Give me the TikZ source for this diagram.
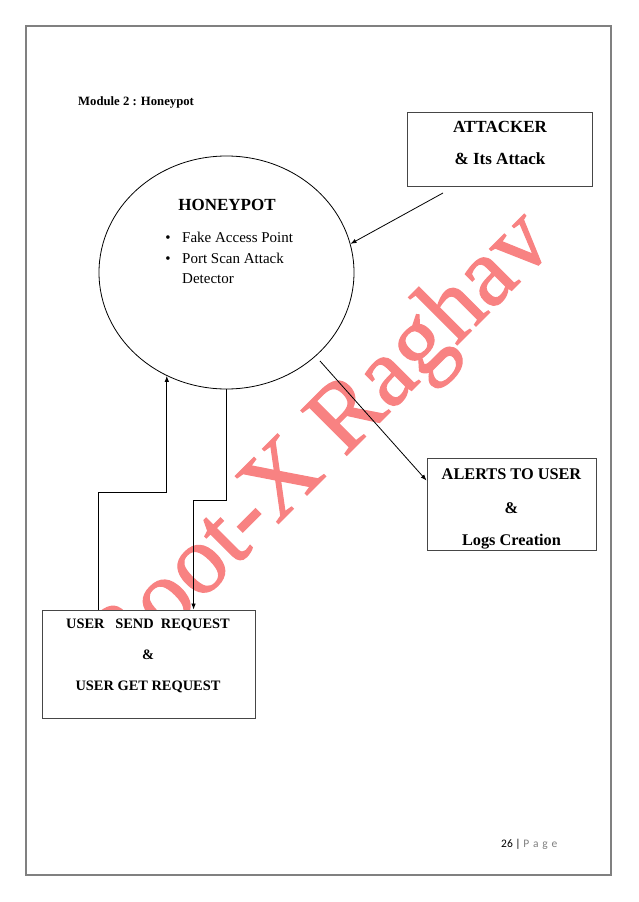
\documentclass[tikz,border=0pt]{standalone}
\usepackage{fontspec}
\setmainfont{Liberation Serif}
\newfontfamily\pgnumfont{Carlito}
\newfontfamily\wmfont[FakeBold=1.2]{Liberation Serif}
\usetikzlibrary{shapes.geometric,arrows.meta}
\definecolor{wmred}{RGB}{248,130,130}
\definecolor{pageframe}{RGB}{128,128,128}
\definecolor{boxline}{RGB}{70,70,70}
\tikzset{
  boxst/.style={draw=boxline, line width=0.9pt, fill=white, rectangle, inner sep=0pt},
  bigb/.style={font=\fontsize{17}{20}\selectfont\bfseries, anchor=base, inner sep=0pt},
  midb/.style={font=\fontsize{16.3}{19}\selectfont\bfseries, anchor=base, inner sep=0pt},
  smlb/.style={font=\fontsize{14.4}{17}\selectfont\bfseries, anchor=base, inner sep=0pt},
  item/.style={font=\fontsize{15}{18}\selectfont, anchor=base west, inner sep=0pt},
  conn/.style={draw=black, line width=0.8pt},
  arr/.style={conn, -{Latex[length=6pt,width=4.5pt]}},
}
\begin{document}
\begin{tikzpicture}[x=1pt,y=-1pt]
\useasboundingbox (0,0) rectangle (638,902);
\fill[white] (0,0) rectangle (638,902);
% page frame
\node[draw=pageframe, line width=2pt, minimum width=585, minimum height=849, inner sep=0pt] (frame) at (318.5,450.5) {};
% watermark
\node[text=wmred, rotate=45, font=\wmfont\fontsize{98}{100}\selectfont, inner sep=0pt] (wm) at (321,448) {Root-X Raghav};
% title
\node[font=\fontsize{12.7}{15}\selectfont\bfseries, anchor=base west, inner sep=0pt] (title) at (78,105) {Module 2 : Honeypot};
% honeypot ellipse
\node[draw=black, line width=0.8pt, ellipse, minimum width=255, minimum height=233, inner sep=0pt] (hp) at (226.5,272.5) {};
\node[bigb] (hpt) at (227,210) {HONEYPOT};
\node[item, anchor=base] (b1) at (168,242) {\textbullet};
\node[item, anchor=base] (b2) at (168,263) {\textbullet};
\node[item] (i1) at (182,242) {Fake Access Point};
\node[item] (i2) at (182,263) {Port Scan Attack};
\node[item] (i3) at (182,283) {Detector};
% attacker box
\node[boxst, minimum width=185, minimum height=74] (att) at (499.5,149) {};
\node[bigb] (att1) at (500,132) {ATTACKER};
\node[bigb] (att2) at (500,164) {\& Its Attack};
% alerts box
\node[boxst, minimum width=169, minimum height=92] (al) at (511.5,504) {};
\node[midb] (al1) at (511.5,479) {ALERTS TO USER};
\node[midb] (al2) at (511.5,513) {\&};
\node[midb] (al3) at (511.5,545) {Logs Creation};
% user box
\node[boxst, minimum width=213, minimum height=108] (us) at (148.5,664) {};
\node[smlb] (us1) at (148,628) {USER\ \ \ SEND\ \ REQUEST};
\node[smlb] (us2) at (148,659) {\&};
\node[smlb] (us3) at (148,690) {USER GET REQUEST};
% page number
\node[font=\pgnumfont\fontsize{11.5}{13}\selectfont, anchor=base west, inner sep=0pt] (pg) at (501,847) {26 | \textcolor{pageframe}{P\,\,a\,\,g\,\,e}};
% connectors
\coordinate (attfrom) at (443,193);
\draw[arr] (attfrom) -- (hp.13.5);
\coordinate (alfrom) at (320,361);
\draw[arr] (alfrom) -- ([yshift=-23pt]al.north west);
\draw[arr] ([xshift=57pt]us.north west) -- ++(0,-117) -| (hp.240);
\draw[arr] (hp.south) -- ++(0,111) -| ([xshift=152pt]us.north west);
\end{tikzpicture}
\end{document}
